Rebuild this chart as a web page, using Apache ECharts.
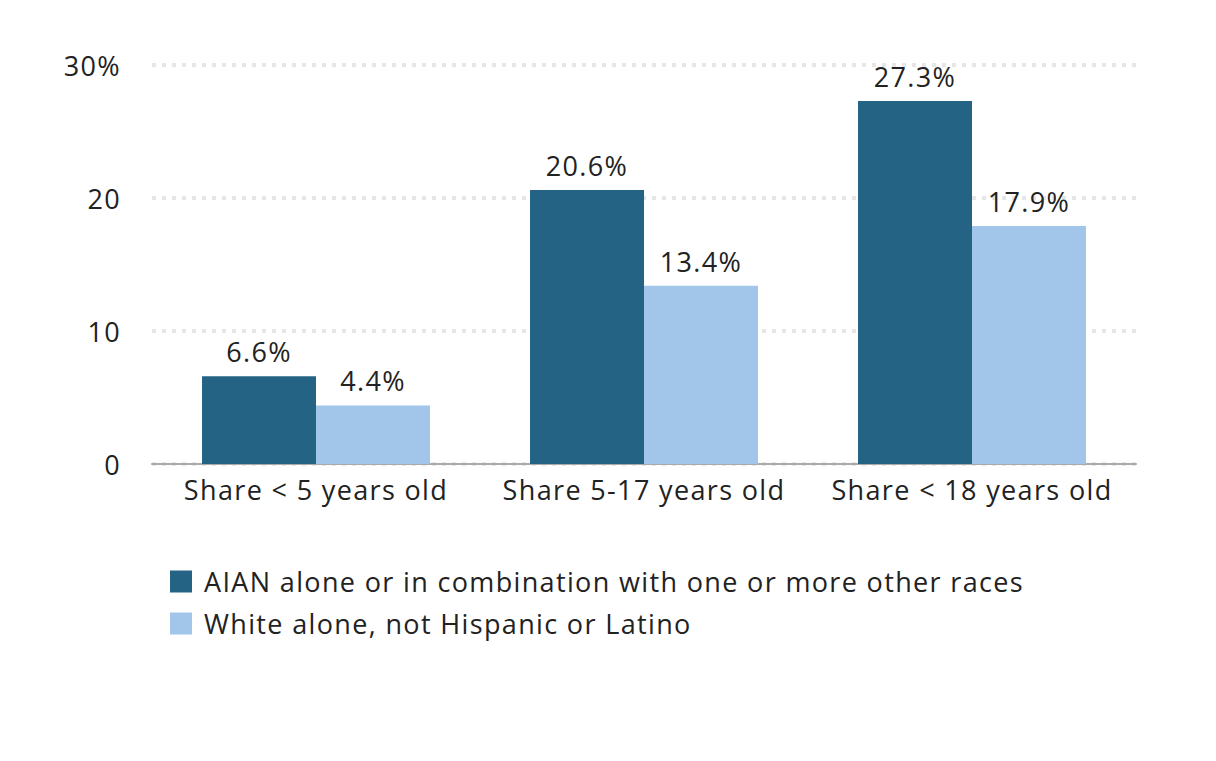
<!DOCTYPE html>
<html><head><meta charset="utf-8">
<script src="https://cdn.jsdelivr.net/npm/echarts@6/dist/echarts.min.js"></script>
<style>html,body{margin:0;padding:0;background:#fff}#c{width:1216px;height:761px;letter-spacing:1.35px}</style>
</head><body><div id="c"></div>
<script>
const categories = ['Share < 5 years old', 'Share 5-17 years old', 'Share < 18 years old'];
const seriesNames = ['AIAN alone or in combination with one or more other races', 'White alone, not Hispanic or Latino'];
const aianValues = [6.6, 20.6, 27.3];
const whiteValues = [4.4, 13.4, 17.9];
const yTicks = [0, 10, 20, 30];

const FONT = 'Open Sans';
const FS = 27;
const chart = echarts.init(document.getElementById('c'), null, { renderer: 'svg' });
const labelCfg = {
  show: true, position: 'top', distance: 11,
  fontFamily: FONT, fontSize: FS, color: '#222',
  formatter: p => p.value.toFixed(1) + '%'
};
chart.setOption({
  animation: false,
  textStyle: { fontFamily: FONT },
  grid: { left: 152, right: 80, top: 65, bottom: 297, containLabel: false },
  legend: {
    orient: 'vertical', left: 170, top: 568, padding: 0,
    itemWidth: 22, itemHeight: 22, itemGap: 15, icon: 'rect',
    textStyle: { fontFamily: FONT, fontSize: FS, color: '#222', padding: [0, 0, 0, 7] },
    data: seriesNames
  },
  xAxis: {
    type: 'category', data: categories,
    axisLine: { show: true, lineStyle: { color: '#aaa', width: 2 } },
    axisTick: { show: false },
    axisLabel: { interval: 0, hideOverlap: false, fontFamily: FONT, fontSize: FS, color: '#222', margin: 12 }
  },
  yAxis: {
    type: 'value', min: yTicks[0], max: yTicks[yTicks.length - 1], interval: 10,
    axisLine: { show: false }, axisTick: { show: false },
    splitLine: { show: true, lineStyle: { color: '#e6e6e6', width: 4, type: [4, 6] } },
    axisLabel: {
      fontFamily: FONT, fontSize: FS, color: '#222', margin: 31,
      formatter: v => v === 30 ? v + '%' : String(v)
    }
  },
  series: [
    { name: seriesNames[0], type: 'bar', data: aianValues, barGap: '0%', barCategoryGap: '30.5%',
      itemStyle: { color: '#256384' }, label: labelCfg },
    { name: seriesNames[1], type: 'bar', data: whiteValues,
      itemStyle: { color: '#a1c6e9' }, label: labelCfg }
  ]
});
</script></body></html>
